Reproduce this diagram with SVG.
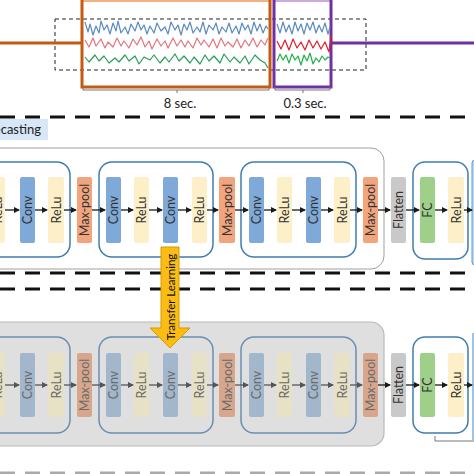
<svg xmlns="http://www.w3.org/2000/svg" width="474" height="474" viewBox="0 0 474 474">
<defs>
<style>
text{font-family:Lato,"Liberation Sans",sans-serif;}
.lbl{font-size:12.5px;fill:#333;text-anchor:middle;dominant-baseline:central;}
.lblf{font-size:12.5px;fill:#6a6a6a;text-anchor:middle;dominant-baseline:central;}
.conv{fill:#7ea9d9;}
.relu{fill:#fdf0c9;}
.pool{fill:#f2a57d;}
.flat{fill:#c9c9c9;}
.fc{fill:#9fd08a;}
.convf{fill:#a2b7cc;}
.reluf{fill:#e7e1c5;}
.poolf{fill:#d8a68d;}
.grp{fill:none;stroke:#3e7cb1;stroke-width:1.5;}
.grpf{fill:none;stroke:#6b8fae;stroke-width:1.5;}
.arr{stroke:#1a1a1a;stroke-width:1.3;fill:none;marker-end:url(#ah);}
.arrf{stroke:#555;stroke-width:1.3;fill:none;marker-end:url(#ahf);}
.dash{stroke:#111;stroke-width:3;stroke-dasharray:15 10;fill:none;}
.sig{fill:none;stroke-width:1.2;stroke-linejoin:round;}
</style>
<marker id="ah" markerWidth="6" markerHeight="6" refX="5" refY="3" orient="auto" markerUnits="userSpaceOnUse"><path d="M0,0 L6,3 L0,6 Z" fill="#1a1a1a"/></marker>
<marker id="ahf" markerWidth="6" markerHeight="6" refX="5" refY="3" orient="auto" markerUnits="userSpaceOnUse"><path d="M0,0 L6,3 L0,6 Z" fill="#555"/></marker>
</defs>
<rect width="474" height="474" fill="#fff"/>

<g id="signal-window">
<rect x="55" y="19" width="311" height="51" fill="none" stroke="#222" stroke-width="1" stroke-dasharray="4 3"/>
<line x1="0" y1="43" x2="82" y2="43" stroke="#c55a11" stroke-width="3"/>
<rect x="83" y="-1" width="187" height="3" fill="#f4b183"/>
<rect x="82" y="-5" width="188" height="92" fill="none" stroke="#c55a11" stroke-width="3"/>
<rect x="275" y="-1" width="56" height="3" fill="#c9a9e0"/>
<rect x="274" y="-5" width="57" height="92" fill="none" stroke="#7030a0" stroke-width="3"/>
<line x1="331" y1="43" x2="474" y2="43" stroke="#7030a0" stroke-width="3"/>
<polyline class="sig" stroke="#5b8ac0" points="85,22 88,32 90,24 93,35 96,26 99,33 101,21 104,30 107,25 110,34 113,23 116,31 118,21 121,33 125,27 128,34 131,24 135,31 138,22 141,30 144,25 147,34 150,26 154,33 157,23 161,31 165,27 168,34 171,22 175,30 178,25 181,35 184,24 187,30 190,22 193,33 197,27 200,32 203,22 206,34 209,25 213,30 216,23 219,34 222,27 226,32 229,23 232,33 236,26 239,34 242,23 245,30 248,25 251,34 254,22 257,31 260,24 263,33 266,26 268,29"/>
<polyline class="sig" stroke="#e27580" points="85,40 89,47 93,38 96,46 101,39 105,48 108,42 113,47 117,38 121,46 124,41 129,48 133,39 137,45 141,37 145,47 149,41 152,49 157,39 161,46 165,41 168,48 173,38 177,46 181,40 185,47 188,41 193,48 197,38 201,45 204,40 209,47 213,39 217,48 221,38 225,46 228,42 233,47 237,39 241,48 245,40 249,46 253,38 257,47 261,40 265,45 268,38"/>
<polyline class="sig" stroke="#2a9d55" points="85,57 89,62 95,55 99,61 104,56 109,63 115,58 119,62 125,55 129,61 135,56 139,64 144,57 150,60 154,55 160,63 165,57 169,62 175,54 179,61 184,56 190,63 194,57 200,64 205,55 209,61 214,56 220,63 224,54 230,62 234,57 240,63 245,56 249,64 255,55 260,60 265,63 268,68"/>
<polyline class="sig" stroke="#5b8ac0" points="277,24 280,33 283,22 286,32 289,25 292,34 295,22 298,31 301,24 304,34 307,23 310,30 313,22 316,33 319,25 322,32 325,23 328,34 330,27"/>
<polyline class="sig" stroke="#e0202a" stroke-width="1.5" points="277,41 281,49 285,40 289,50 293,39 297,48 301,42 305,50 309,40 313,48 317,41 321,49 325,42 329,52 331,36"/>
<polyline class="sig" stroke="#22b04a" points="277,61 280,54 283,60 286,55 289,63 292,54 295,60 298,56 301,65 304,55 307,61 310,53 313,64 316,58 319,62 322,56 325,60 328,57 330,58"/>
</g>
<g id="braces" fill="none" stroke="#777" stroke-width="1">
<path d="M83,87 V90 H269 V87 M177,90 V93"/>
<path d="M275,87 V90 H330 V87 M303,90 V93"/>
</g>
<g id="time-labels">
<text x="180" y="108" font-size="13" fill="#222" text-anchor="middle">8 sec.</text>
<text x="305" y="108" font-size="13" fill="#222" text-anchor="middle">0.3 sec.</text>
</g>

<g id="separators">
<line class="dash" x1="0" y1="117" x2="474" y2="117"/>
<line class="dash" x1="0" y1="273" x2="474" y2="273"/>
<line class="dash" x1="0" y1="289" x2="474" y2="289"/>
<line x1="0" y1="473" x2="474" y2="473" stroke="#aaa" stroke-width="3" stroke-dasharray="15 10"/>
</g>

<g id="forecasting-label">
<rect x="-2" y="119" width="50" height="21" fill="#d7e7f7"/>
<text x="41" y="134" font-size="13" fill="#222" text-anchor="end">Forecasting</text>
</g>

<g id="upper-network">
<rect id="upper-frame" x="-20" y="148" width="404" height="121" rx="13" fill="none" stroke="#a0a0a0" stroke-width="1"/>
<rect id="u-group1" class="grp" x="-40" y="162" width="110" height="95" rx="13"/>
<rect id="u-group2" class="grp" x="99" y="162" width="114" height="95" rx="13"/>
<rect id="u-group3" class="grp" x="241" y="162" width="115" height="95" rx="13"/>
<rect id="u-group4" class="grp" x="413" y="162" width="55" height="97" rx="12"/>
<rect id="u-next" x="472" y="160" width="6" height="105" rx="3" fill="#bdd7ee" stroke="#5b9bd5" stroke-width="1"/>
<g id="u-relu0"><rect class="relu" x="-10" y="177" width="15" height="66" rx="2"/><text class="lbl" transform="translate(-2.5,210) rotate(-90)">ReLu</text></g>
<g id="u-conv1"><rect class="conv" x="20" y="177" width="15" height="66" rx="2"/><text class="lbl" transform="translate(27.5,210) rotate(-90)">Conv</text></g>
<g id="u-relu1"><rect class="relu" x="48" y="177" width="16" height="66" rx="2"/><text class="lbl" transform="translate(56,210) rotate(-90)">ReLu</text></g>
<g id="u-pool1"><rect class="pool" x="77" y="177" width="15" height="66" rx="2"/><text class="lbl" transform="translate(84.5,210) rotate(-90)">Max-pool</text></g>
<g id="u-conv2"><rect class="conv" x="106" y="177" width="15" height="66" rx="2"/><text class="lbl" transform="translate(113.5,210) rotate(-90)">Conv</text></g>
<g id="u-relu2"><rect class="relu" x="134" y="177" width="15" height="66" rx="2"/><text class="lbl" transform="translate(141.5,210) rotate(-90)">ReLu</text></g>
<g id="u-conv3"><rect class="conv" x="163" y="177" width="15" height="66" rx="2"/><text class="lbl" transform="translate(170.5,210) rotate(-90)">Conv</text></g>
<g id="u-relu3"><rect class="relu" x="192" y="177" width="15" height="66" rx="2"/><text class="lbl" transform="translate(199.5,210) rotate(-90)">ReLu</text></g>
<g id="u-pool2"><rect class="pool" x="219" y="177" width="16" height="66" rx="2"/><text class="lbl" transform="translate(227,210) rotate(-90)">Max-pool</text></g>
<g id="u-conv4"><rect class="conv" x="249" y="177" width="15" height="66" rx="2"/><text class="lbl" transform="translate(256.5,210) rotate(-90)">Conv</text></g>
<g id="u-relu4"><rect class="relu" x="277" y="177" width="15" height="66" rx="2"/><text class="lbl" transform="translate(284.5,210) rotate(-90)">ReLu</text></g>
<g id="u-conv5"><rect class="conv" x="306" y="177" width="15" height="66" rx="2"/><text class="lbl" transform="translate(313.5,210) rotate(-90)">Conv</text></g>
<g id="u-relu5"><rect class="relu" x="334" y="177" width="16" height="66" rx="2"/><text class="lbl" transform="translate(342,210) rotate(-90)">ReLu</text></g>
<g id="u-pool3"><rect class="pool" x="363" y="177" width="15" height="66" rx="2"/><text class="lbl" transform="translate(370.5,210) rotate(-90)">Max-pool</text></g>
<g id="u-flatten"><rect class="flat" x="391" y="177" width="15" height="66" rx="2"/><text class="lbl" transform="translate(398.5,210) rotate(-90)">Flatten</text></g>
<g id="u-fc"><rect class="fc" x="420" y="177" width="15" height="66" rx="2"/><text class="lbl" transform="translate(427.5,210) rotate(-90)">FC</text></g>
<g id="u-relu6"><rect class="relu" x="448" y="177" width="16" height="66" rx="2"/><text class="lbl" transform="translate(456,210) rotate(-90)">ReLu</text></g>
</g>

<g id="lower-network">
<rect id="lower-frame" x="-20" y="322" width="404" height="124" rx="13" fill="#dfdfdf" stroke="#b9b9b9" stroke-width="1.2"/>
<rect id="l-group1" class="grpf" x="-40" y="337" width="110" height="96" rx="13"/>
<rect id="l-group2" class="grpf" x="99" y="337" width="114" height="96" rx="13"/>
<rect id="l-group3" class="grpf" x="241" y="337" width="115" height="96" rx="13"/>
<rect id="l-group4" class="grp" x="413" y="337" width="55" height="96" rx="12"/>
<line x1="473" y1="333" x2="473" y2="440" stroke="#5b9bd5" stroke-width="1.2"/>
<path d="M435,436 V441 H474" fill="none" stroke="#777" stroke-width="1"/>
<g id="l-relu0"><rect class="reluf" x="-10" y="353" width="15" height="64" rx="2"/><text class="lblf" transform="translate(-2.5,385) rotate(-90)">ReLu</text></g>
<g id="l-conv1"><rect class="convf" x="20" y="353" width="15" height="64" rx="2"/><text class="lblf" transform="translate(27.5,385) rotate(-90)">Conv</text></g>
<g id="l-relu1"><rect class="reluf" x="48" y="353" width="16" height="64" rx="2"/><text class="lblf" transform="translate(56,385) rotate(-90)">ReLu</text></g>
<g id="l-pool1"><rect class="poolf" x="77" y="353" width="15" height="64" rx="2"/><text class="lblf" transform="translate(84.5,385) rotate(-90)">Max-pool</text></g>
<g id="l-conv2"><rect class="convf" x="106" y="353" width="15" height="64" rx="2"/><text class="lblf" transform="translate(113.5,385) rotate(-90)">Conv</text></g>
<g id="l-relu2"><rect class="reluf" x="134" y="353" width="15" height="64" rx="2"/><text class="lblf" transform="translate(141.5,385) rotate(-90)">ReLu</text></g>
<g id="l-conv3"><rect class="convf" x="163" y="353" width="15" height="64" rx="2"/><text class="lblf" transform="translate(170.5,385) rotate(-90)">Conv</text></g>
<g id="l-relu3"><rect class="reluf" x="192" y="353" width="15" height="64" rx="2"/><text class="lblf" transform="translate(199.5,385) rotate(-90)">ReLu</text></g>
<g id="l-pool2"><rect class="poolf" x="219" y="353" width="16" height="64" rx="2"/><text class="lblf" transform="translate(227,385) rotate(-90)">Max-pool</text></g>
<g id="l-conv4"><rect class="convf" x="249" y="353" width="15" height="64" rx="2"/><text class="lblf" transform="translate(256.5,385) rotate(-90)">Conv</text></g>
<g id="l-relu4"><rect class="reluf" x="277" y="353" width="15" height="64" rx="2"/><text class="lblf" transform="translate(284.5,385) rotate(-90)">ReLu</text></g>
<g id="l-conv5"><rect class="convf" x="306" y="353" width="15" height="64" rx="2"/><text class="lblf" transform="translate(313.5,385) rotate(-90)">Conv</text></g>
<g id="l-relu5"><rect class="reluf" x="334" y="353" width="16" height="64" rx="2"/><text class="lblf" transform="translate(342,385) rotate(-90)">ReLu</text></g>
<g id="l-pool3"><rect class="poolf" x="363" y="353" width="15" height="64" rx="2"/><text class="lblf" transform="translate(370.5,385) rotate(-90)">Max-pool</text></g>
<g id="l-flatten"><rect class="flat" x="391" y="353" width="15" height="64" rx="2"/><text class="lbl" transform="translate(398.5,385) rotate(-90)">Flatten</text></g>
<g id="l-fc"><rect class="fc" x="420" y="353" width="15" height="64" rx="2"/><text class="lbl" transform="translate(427.5,385) rotate(-90)">FC</text></g>
<g id="l-relu6"><rect class="relu" x="448" y="353" width="16" height="64" rx="2"/><text class="lbl" transform="translate(456,385) rotate(-90)">ReLu</text></g>
</g>

<g id="connectors">
<line class="arr" x1="5" y1="210" x2="19" y2="210"/>
<line class="arr" x1="35" y1="210" x2="47" y2="210"/>
<line class="arr" x1="64" y1="210" x2="76" y2="210"/>
<line class="arr" x1="92" y1="210" x2="105" y2="210"/>
<line class="arr" x1="121" y1="210" x2="133" y2="210"/>
<line class="arr" x1="149" y1="210" x2="162" y2="210"/>
<line class="arr" x1="178" y1="210" x2="191" y2="210"/>
<line class="arr" x1="207" y1="210" x2="218" y2="210"/>
<line class="arr" x1="235" y1="210" x2="248" y2="210"/>
<line class="arr" x1="264" y1="210" x2="276" y2="210"/>
<line class="arr" x1="292" y1="210" x2="305" y2="210"/>
<line class="arr" x1="321" y1="210" x2="333" y2="210"/>
<line class="arr" x1="350" y1="210" x2="362" y2="210"/>
<line class="arr" x1="378" y1="210" x2="390" y2="210"/>
<line class="arr" x1="406" y1="210" x2="419" y2="210"/>
<line class="arr" x1="435" y1="210" x2="447" y2="210"/>
<line class="arr" x1="464" y1="210" x2="472" y2="210"/>
<line class="arrf" x1="5" y1="385" x2="19" y2="385"/>
<line class="arrf" x1="35" y1="385" x2="47" y2="385"/>
<line class="arrf" x1="64" y1="385" x2="76" y2="385"/>
<line class="arrf" x1="92" y1="385" x2="105" y2="385"/>
<line class="arrf" x1="121" y1="385" x2="133" y2="385"/>
<line class="arrf" x1="149" y1="385" x2="162" y2="385"/>
<line class="arrf" x1="178" y1="385" x2="191" y2="385"/>
<line class="arrf" x1="207" y1="385" x2="218" y2="385"/>
<line class="arrf" x1="235" y1="385" x2="248" y2="385"/>
<line class="arrf" x1="264" y1="385" x2="276" y2="385"/>
<line class="arrf" x1="292" y1="385" x2="305" y2="385"/>
<line class="arrf" x1="321" y1="385" x2="333" y2="385"/>
<line class="arrf" x1="350" y1="385" x2="362" y2="385"/>
<line class="arr" x1="378" y1="385" x2="390" y2="385"/>
<line class="arr" x1="406" y1="385" x2="419" y2="385"/>
<line class="arr" x1="435" y1="385" x2="447" y2="385"/>
<line class="arr" x1="464" y1="385" x2="472" y2="385"/>
</g>

<g id="transfer-learning">
<path d="M161,247 H179 V328 H190 L170,348 L150,328 H161 Z" fill="#fbbd12" stroke="#d99a00" stroke-width="1"/>
<text transform="translate(170,297) rotate(-90)" font-size="11.5" fill="#111" text-anchor="middle" dominant-baseline="central">Transfer Learning</text>
</g>
</svg>
